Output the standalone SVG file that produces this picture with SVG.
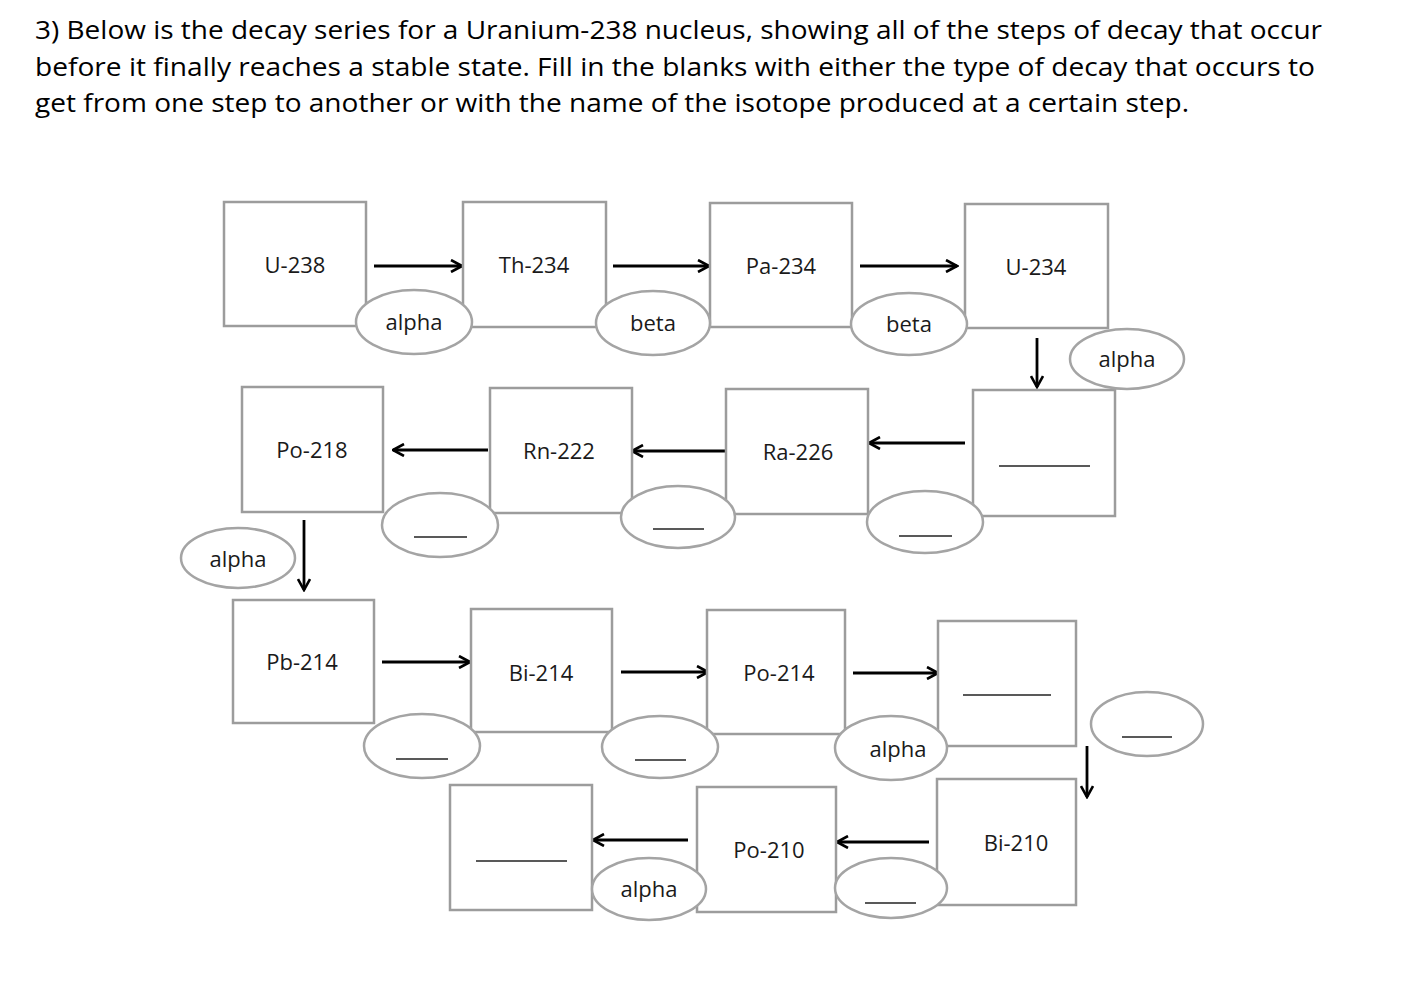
<svg xmlns="http://www.w3.org/2000/svg" width="1404" height="982" viewBox="0 0 1404 982">
<defs>
<style>
.title{font-family:"Open Sans","Noto Sans","Liberation Sans",sans-serif;font-size:25px;fill:#000}
.box{fill:#fff;stroke:#9c9c9c;stroke-width:2.5}
.ell{fill:#fff;stroke:#a4a4a4;stroke-width:2.5}
.lbl{font-family:"Open Sans","Noto Sans","Liberation Sans",sans-serif;font-size:22px;fill:#1a1a1a;text-anchor:middle}
.blank{stroke:#222;stroke-width:1.6}
.arr{stroke:#000;stroke-width:2.8;fill:none;marker-end:url(#ah)}
</style>
<marker id="ah" viewBox="0 0 14 14" refX="12.5" refY="7" markerWidth="14" markerHeight="14" markerUnits="userSpaceOnUse" orient="auto">
<path d="M1.5,1 L12.5,7 L1.5,13" fill="none" stroke="#000" stroke-width="2.6"/>
</marker>
</defs>
<rect width="1404" height="982" fill="#fff"/>
<g id="title">
<text class="title" x="35" y="39" textLength="1287" lengthAdjust="spacingAndGlyphs">3) Below is the decay series for a Uranium-238 nucleus, showing all of the steps of decay that occur</text>
<text class="title" x="35" y="76" textLength="1280" lengthAdjust="spacingAndGlyphs">before it finally reaches a stable state. Fill in the blanks with either the type of decay that occurs to</text>
<text class="title" x="35" y="112" textLength="1154" lengthAdjust="spacingAndGlyphs">get from one step to another or with the name of the isotope produced at a certain step.</text>
</g>
<g id="connectors">
<line class="arr" x1="374" y1="266" x2="462" y2="266"/>
<line class="arr" x1="613" y1="266" x2="709" y2="266"/>
<line class="arr" x1="860" y1="266" x2="957" y2="266"/>
<line class="arr" x1="1037" y1="338" x2="1037" y2="387"/>
<line class="arr" x1="965" y1="443" x2="869" y2="443"/>
<line class="arr" x1="726" y1="451" x2="632" y2="451"/>
<line class="arr" x1="488" y1="450" x2="393" y2="450"/>
<line class="arr" x1="304" y1="520" x2="304" y2="590"/>
<line class="arr" x1="382" y1="662" x2="470" y2="662"/>
<line class="arr" x1="621" y1="672" x2="708" y2="672"/>
<line class="arr" x1="853" y1="673" x2="938" y2="673"/>
<line class="arr" x1="1087" y1="746" x2="1087" y2="797"/>
<line class="arr" x1="929" y1="842" x2="837" y2="842"/>
<line class="arr" x1="688" y1="840" x2="593" y2="840"/>
</g>
<g id="n-u238"><rect class="box" x="224" y="202" width="142" height="124"/><text class="lbl" x="295" y="273">U-238</text></g>
<g id="n-th234"><rect class="box" x="463" y="202" width="143" height="125"/><text class="lbl" x="534" y="273">Th-234</text></g>
<g id="n-pa234"><rect class="box" x="710" y="203" width="142" height="124"/><text class="lbl" x="781" y="274">Pa-234</text></g>
<g id="n-u234"><rect class="box" x="965" y="204" width="143" height="124"/><text class="lbl" x="1036" y="275">U-234</text></g>
<g id="n-blank1"><rect class="box" x="973" y="390" width="142" height="126"/><line class="blank" x1="999" y1="466" x2="1090" y2="466"/></g>
<g id="n-ra226"><rect class="box" x="726" y="389" width="142" height="125"/><text class="lbl" x="798" y="460">Ra-226</text></g>
<g id="n-rn222"><rect class="box" x="490" y="388" width="142" height="125"/><text class="lbl" x="559" y="459">Rn-222</text></g>
<g id="n-po218"><rect class="box" x="242" y="387" width="141" height="125"/><text class="lbl" x="312" y="458">Po-218</text></g>
<g id="n-pb214"><rect class="box" x="233" y="600" width="141" height="123"/><text class="lbl" x="302" y="670">Pb-214</text></g>
<g id="n-bi214"><rect class="box" x="471" y="609" width="141" height="123"/><text class="lbl" x="541" y="681">Bi-214</text></g>
<g id="n-po214"><rect class="box" x="707" y="610" width="138" height="124"/><text class="lbl" x="779" y="681">Po-214</text></g>
<g id="n-blank2"><rect class="box" x="938" y="621" width="138" height="125"/><line class="blank" x1="963" y1="695" x2="1051" y2="695"/></g>
<g id="n-bi210"><rect class="box" x="937" y="779" width="139" height="126"/><text class="lbl" x="1016" y="851">Bi-210</text></g>
<g id="n-po210"><rect class="box" x="697" y="787" width="139" height="125"/><text class="lbl" x="769" y="858">Po-210</text></g>
<g id="n-blank3"><rect class="box" x="450" y="785" width="142" height="125"/><line class="blank" x1="476" y1="861" x2="567" y2="861"/></g>
<g id="e-alpha1"><ellipse class="ell" cx="414" cy="322" rx="58" ry="32"/><text class="lbl" x="414" y="330">alpha</text></g>
<g id="e-beta1"><ellipse class="ell" cx="653" cy="323" rx="57" ry="32"/><text class="lbl" x="653" y="331">beta</text></g>
<g id="e-beta2"><ellipse class="ell" cx="909" cy="324" rx="58" ry="31"/><text class="lbl" x="909" y="332">beta</text></g>
<g id="e-alpha2"><ellipse class="ell" cx="1127" cy="359" rx="57" ry="30"/><text class="lbl" x="1127" y="367">alpha</text></g>
<g id="e-blank1"><ellipse class="ell" cx="925" cy="522" rx="58" ry="31"/><line class="blank" x1="899" y1="536" x2="952" y2="536"/></g>
<g id="e-blank2"><ellipse class="ell" cx="678" cy="517" rx="57" ry="31"/><line class="blank" x1="653" y1="529" x2="704" y2="529"/></g>
<g id="e-blank3"><ellipse class="ell" cx="440" cy="525" rx="58" ry="32"/><line class="blank" x1="414" y1="537" x2="467" y2="537"/></g>
<g id="e-alpha3"><ellipse class="ell" cx="238" cy="558" rx="57" ry="30"/><text class="lbl" x="238" y="567">alpha</text></g>
<g id="e-blank4"><ellipse class="ell" cx="422" cy="746" rx="58" ry="32"/><line class="blank" x1="396" y1="759" x2="448" y2="759"/></g>
<g id="e-blank5"><ellipse class="ell" cx="660" cy="747" rx="58" ry="31"/><line class="blank" x1="635" y1="760" x2="686" y2="760"/></g>
<g id="e-alpha4"><ellipse class="ell" cx="891" cy="748" rx="56" ry="32"/><text class="lbl" x="898" y="757">alpha</text></g>
<g id="e-blank6"><ellipse class="ell" cx="1147" cy="724" rx="56" ry="32"/><line class="blank" x1="1122" y1="737" x2="1172" y2="737"/></g>
<g id="e-blank7"><ellipse class="ell" cx="891" cy="888" rx="56" ry="30"/><line class="blank" x1="865" y1="903" x2="916" y2="903"/></g>
<g id="e-alpha5"><ellipse class="ell" cx="649" cy="889" rx="57" ry="31"/><text class="lbl" x="649" y="897">alpha</text></g>
</svg>
